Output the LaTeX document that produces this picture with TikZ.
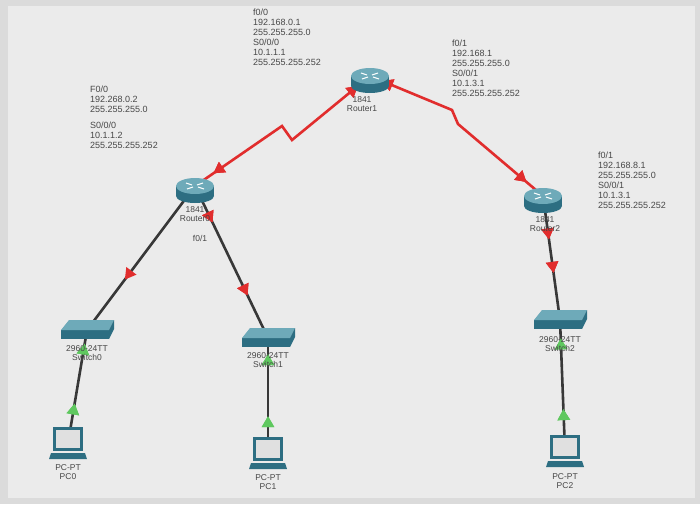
\documentclass[tikz,border=0pt]{standalone}
\usepackage{fontspec}
\setmainfont{Liberation Sans}
\usetikzlibrary{decorations.markings,arrows.meta,calc}
\definecolor{devtop}{RGB}{110,170,185}
\definecolor{devside}{RGB}{45,110,130}
\definecolor{grn}{RGB}{95,200,95}
\definecolor{rd}{RGB}{225,45,45}
\begin{document}
\begin{tikzpicture}[x=1pt,y=-1pt,
  lbl/.style={font=\fontsize{9}{9.9}\selectfont,text=black!72,align=left,inner sep=0pt,anchor=north west},
  dlbl/.style={font=\fontsize{8.5}{8.8}\selectfont,text=black!72,align=center,inner sep=0pt},
  ser/.style={draw=rd,line width=2.6pt},
  eth/.style={draw=black!78,line width=2.6pt},
  tri/.style 2 args={postaction={decorate},decoration={markings,mark=at position #1 with {\arrow[#2]{Triangle[length=11pt,width=12pt]}}}},
  trir/.style 2 args={postaction={decorate},decoration={markings,mark=at position #1 with {\arrowreversed[#2]{Triangle[length=11pt,width=12pt]}}}},
  dev/.style={inner sep=0pt,minimum size=2pt}
]
\useasboundingbox (0,0) rectangle (700,504);
\fill[black!14] (0,0) rectangle (700,504);
\fill[black!8] (8,6) rectangle (695,498);
% device positions
\coordinate (R1) at (370,76);
\coordinate (R0) at (195,186);
\coordinate (R2) at (543,196);
\coordinate (S0) at (87,330);
\coordinate (S1) at (268,338);
\coordinate (S2) at (560,320);
\coordinate (P0) at (68,443);
\coordinate (P1) at (268,453);
\coordinate (P2) at (565,451);
% links
\draw[ser,trir={0.1}{rd},tri={0.93}{rd}] (R0) -- (282,126) -- (292,140) -- (R1);
\draw[ser,trir={0.06}{rd},tri={0.9}{rd}] (R1) -- (452,110) -- (458,124) -- (R2);
\draw[eth,tri={0.65}{rd}] (R0) -- (S0);
\draw[eth,tri={0.24}{rd},tri={0.72}{rd}] (R0) -- (S1);
\draw[eth,tri={0.35}{rd},tri={0.62}{rd}] (R2) -- (S2);
\draw[eth,tri={0.35}{grn},tri={0.88}{grn}] (P0) -- (S0);
\draw[eth,tri={0.32}{grn},tri={0.86}{grn}] (P1) -- (S1);
\draw[eth,tri={0.32}{grn},tri={0.86}{grn}] (P2) -- (S2);
% routers
\foreach \r/\n in {R1/r1,R0/r0,R2/r2}{
  \begin{scope}[shift={(\r)}]
    \fill[devside] (-19,0) rectangle (19,10);
    \fill[devside] (0,10) ellipse (19 and 7);
    \fill[devtop] (0,0) ellipse (19 and 8);
    \draw[white,line width=1pt] (-9,-3)--(-3,-1) (9,3)--(3,1) (-8,3)--(-2,1) (8,-3)--(2,-1);
    \node[dev] (\n) at (0,0) {};
  \end{scope}}
% switches
\foreach \s/\n in {S0/s0,S1/s1,S2/s2}{
  \begin{scope}[shift={(\s)}]
    \fill[devside] (-26,0) rectangle (22,9);
    \fill[devtop] (-26,0) -- (-18,-10) -- (27,-10) -- (22,0) -- cycle;
    \fill[devside] (22,0) -- (27,-10) -- (27,-1) -- (22,9) -- cycle;
    \node[dev] (\n) at (0,0) {};
  \end{scope}}
% PCs
\foreach \p/\n in {P0/p0,P1/p1,P2/p2}{
  \begin{scope}[shift={(\p)}]
    \fill[devside] (-15,-16) rectangle (15,8);
    \fill[black!12] (-12,-13) rectangle (12,5);
    \fill[devside] (-17,10) -- (17,10) -- (19,16) -- (-19,16) -- cycle;
    \node[dev] (\n) at (0,0) {};
  \end{scope}}
% device labels
\node[dlbl] (lr1) at (362,104) {1841\\Router1};
\node[dlbl] (lr0) at (195,214) {1841\\Router0};
\node[dlbl] (lr2) at (545,224) {1841\\Router2};
\node[dlbl] (ls0) at (87,353) {2960-24TT\\Switch0};
\node[dlbl] (ls1) at (268,360) {2960-24TT\\Switch1};
\node[dlbl] (ls2) at (560,344) {2960-24TT\\Switch2};
\node[dlbl] (lp0) at (68,472) {PC-PT\\PC0};
\node[dlbl] (lp1) at (268,482) {PC-PT\\PC1};
\node[dlbl] (lp2) at (565,481) {PC-PT\\PC2};
\node[dlbl] (f01) at (200,238) {f0/1};
% config labels
\node[lbl] (t1) at (253,9) {f0/0\\192.168.0.1\\255.255.255.0\\S0/0/0\\10.1.1.1\\255.255.255.252};
\node[lbl] (t0) at (90,86) {F0/0\\192.268.0.2\\255.255.255.0\\[6pt]S0/0/0\\10.1.1.2\\255.255.255.252};
\node[lbl] (t2) at (452,40) {f0/1\\192.168.1\\255.255.255.0\\S0/0/1\\10.1.3.1\\255.255.255.252};
\node[lbl] (t3) at (598,152) {f0/1\\192.168.8.1\\255.255.255.0\\S0/0/1\\10.1.3.1\\255.255.255.252};
\end{tikzpicture}
\end{document}
